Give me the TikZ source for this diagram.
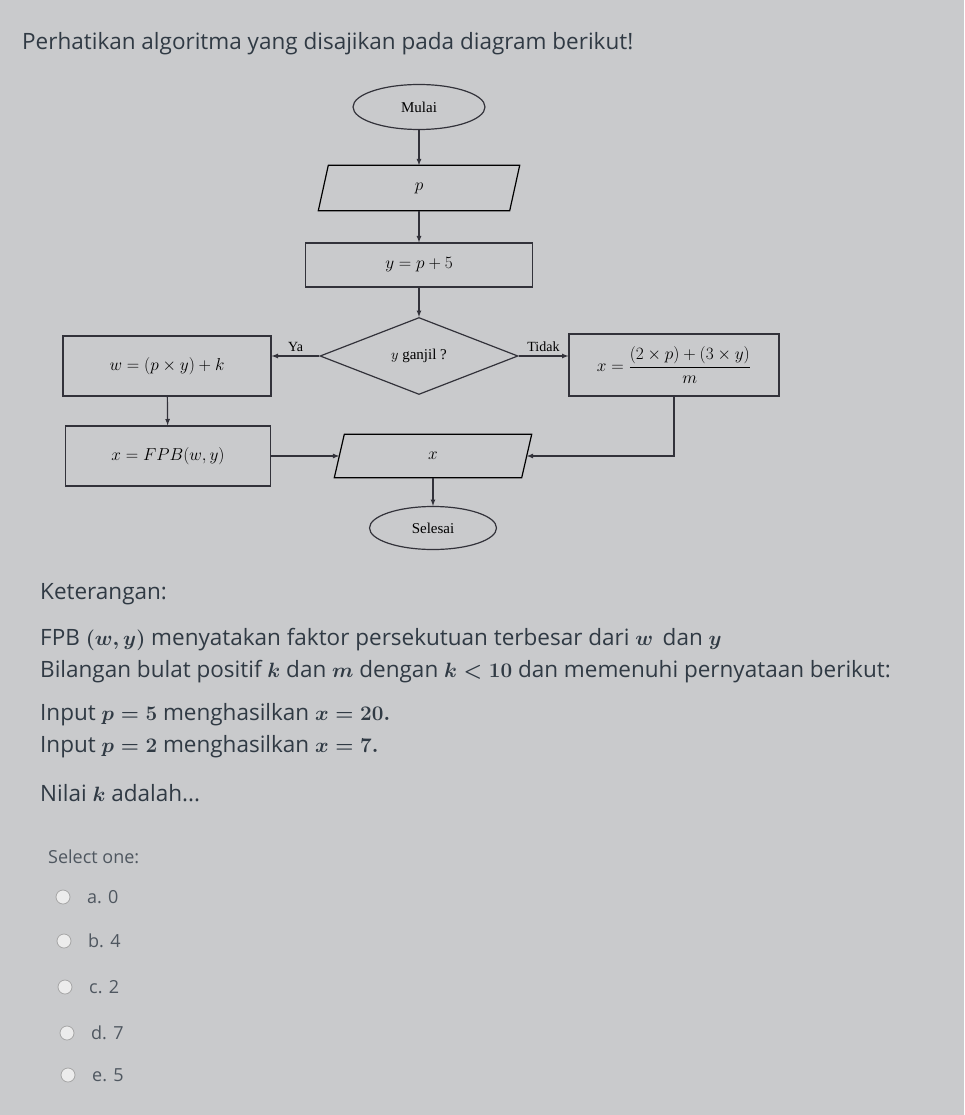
\documentclass[tikz,border=0pt]{standalone}
\usepackage{amsmath}
\usepackage{fontspec}
\setmainfont{Liberation Serif}
\newfontfamily\uifont{Open Sans}
\usetikzlibrary{arrows}
\usetikzlibrary{shapes.geometric}
\usetikzlibrary{positioning}
\definecolor{screen}{RGB}{201,202,204}
\definecolor{ink}{RGB}{48,58,68}
\definecolor{stroke}{RGB}{50,50,58}
\tikzstyle{term}=[ellipse, draw=stroke, line width=1.2pt, inner sep=0pt, font=\fontsize{15}{17}\selectfont]
\tikzstyle{proc}=[rectangle, draw=stroke, line width=1.2pt, inner sep=0pt, font=\fontsize{16.5}{19}\selectfont]
\tikzstyle{io}=[rectangle, inner sep=0pt, font=\fontsize{16.5}{19}\selectfont]
\tikzstyle{cond}=[diamond, aspect=2.5, draw=stroke, line width=1.2pt, inner sep=0pt, font=\fontsize{15}{17}\selectfont]
\tikzstyle{flow}=[draw=stroke, line width=1.2pt, -latex]
\tikzstyle{txt}=[anchor=base west, inner sep=0pt, text=ink, font=\uifont\boldmath\fontsize{22.5}{26}\selectfont]
\tikzstyle{opt}=[anchor=base west, inner sep=0pt, text=ink!85, font=\uifont\fontsize{18}{21}\selectfont]
\tikzstyle{radio}=[circle, draw=gray!70, fill=white!85!gray, line width=0.8pt, minimum size=14pt, inner sep=0pt]
\newcommand{\slantbox}[1]{\draw[stroke, line width=1.2pt] ([xshift=5pt]#1.north west) -- ([xshift=5pt]#1.north east) -- ([xshift=-5pt]#1.south east) -- ([xshift=-5pt]#1.south west) -- cycle;}

\begin{document}
\begin{tikzpicture}[x=1pt, y=-1pt]
    \fill[screen] (0,0) rectangle (964,1115);
    \useasboundingbox (0,0) rectangle (964,1115);
    \node[txt] (judul) at (22,50) {Perhatikan algoritma yang disajikan pada diagram berikut!};
    % flowchart
    \node[term, minimum width=132pt, minimum height=45pt] (mulai) at (419,107) {Mulai};
    \node[io, minimum width=191pt, minimum height=45pt] (inp) at (419,188) {$p$};
    \slantbox{inp}
    \node[proc, minimum width=227pt, minimum height=44pt] (ybox) at (419,265) {$y = p + 5$};
    \node[cond, minimum width=198pt, minimum height=77pt] (cek) at (419,356) {$y$ ganjil ?};
    \node[proc, minimum width=208pt, minimum height=60pt] (wbox) at (167,366) {$w = (p \times y) + k$};
    \node[proc, minimum width=210pt, minimum height=62pt, font=\fontsize{18}{20}\selectfont] (xbox) at (674,365) {$x = \dfrac{(2 \times p) + (3 \times y)}{m}$};
    \node[proc, minimum width=205pt, minimum height=60pt] (fpb) at (168,456) {$x = FPB(w, y)$};
    \node[io, minimum width=187pt, minimum height=43pt] (outp) at (433,456) {$x$};
    \slantbox{outp}
    \node[term, minimum width=127pt, minimum height=43pt] (selesai) at (433,528) {Selesai};
    \foreach \from/\to in {mulai/inp, inp/ybox, ybox/cek, wbox/fpb, outp/selesai}
    \draw[flow] (\from) -- (\to);
    \draw[flow] (cek.west) -- (cek.west -| wbox.east) node[midway, above, font=\fontsize{14}{16}\selectfont] (ya) {Ya};
    \draw[flow] (cek.east) -- (cek.east -| xbox.west) node[midway, above, font=\fontsize{14}{16}\selectfont] (tidak) {Tidak};
    \draw[flow] (fpb.east) -- (outp.west);
    \draw[flow] (xbox.south) |- (outp.east);
    % keterangan
    \node[txt] (ket) at (40,599) {Keterangan:};
    \node[txt] (fpbket) at (40,645) {FPB $(w, y)$ menyatakan faktor persekutuan terbesar dari $w$\, dan $y$};
    \node[txt] (syarat) at (40,677) {Bilangan bulat positif $k$ dan $m$ dengan $k < 10$ dan memenuhi pernyataan berikut:};
    \node[txt] (inp1) at (40,720) {Input $p = 5$ menghasilkan $x = 20.$};
    \node[txt] (inp2) at (40,752) {Input $p = 2$ menghasilkan $x = 7.$};
    \node[txt] (nilai) at (40,801) {Nilai $k$ adalah...};
    \node[opt] (pilih) at (48,863) {Select one:};
    % pilihan
    \foreach \name/\px/\py/\lbl in {a/63/897/a. 0, b/64/941/b. 4, c/65/987/c. 2, d/67/1033/d. 7, e/68/1075/e. 5}{
      \node[radio] (r\name) at (\px,\py) {};
      \node[opt, anchor=west] (o\name) at ([xshift=24pt]r\name.center) {\lbl};
    }
\end{tikzpicture}
\end{document}
